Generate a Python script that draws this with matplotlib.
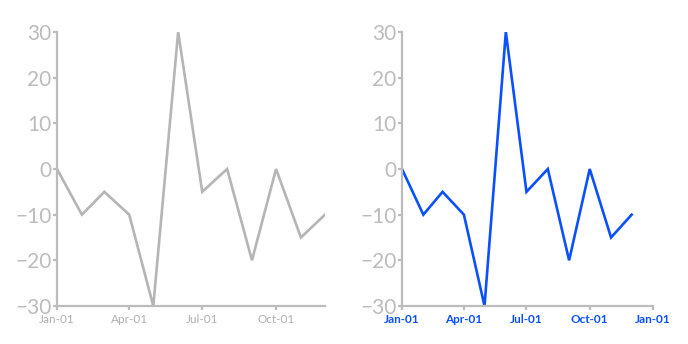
import numpy as np
import pandas as pd
import matplotlib
matplotlib.use("Agg")
import matplotlib.pyplot as plt
import matplotlib.dates as mdates

plt.rcParams['font.family'] = ['Lato', 'DejaVu Sans']

DATES = pd.date_range("2021-01-01", periods=12, freq="MS")
VALUES = [0, -10, -5, -10, -30, 30, -5, 0, -20, 0, -15, -10]
Y_TICKS = [-30, -20, -10, 0, 10, 20, 30]

GRAY = "#bcbcbc"
BLUE = "#0a50ff"

fig = plt.figure(figsize=(6.88, 3.44), dpi=100)
ax1 = fig.add_axes([57 / 688, 38 / 344, (325 - 57) / 688, (306 - 32) / 344])
ax2 = fig.add_axes([402 / 688, 38 / 344, (653 - 402) / 688, (306 - 32) / 344])


def style(ax, line_color, xlabel_color, xmax):
    ax.plot(DATES, VALUES, color=line_color, lw=1.9, solid_joinstyle="miter")
    ax.set_xlim(DATES[0], xmax)
    ax.set_ylim(-30, 30)
    ax.set_yticks(Y_TICKS)
    ax.xaxis.set_major_locator(mdates.MonthLocator(bymonth=[1, 4, 7, 10]))
    ax.xaxis.set_major_formatter(mdates.DateFormatter("%b-%d"))
    for s in ["top", "right"]:
        ax.spines[s].set_visible(False)
    for s in ["left", "bottom"]:
        ax.spines[s].set_color(GRAY)
        ax.spines[s].set_linewidth(1.6)
    ax.tick_params(axis="y", colors=GRAY, labelsize=15, length=3, width=1.6, pad=1)
    ax.tick_params(axis="x", color=GRAY, labelcolor=xlabel_color, labelsize=8.5,
                   length=3, width=1.6, pad=3)
    ax.set_facecolor("none")


style(ax1, "#b5b5b5", "#b0b0b0", DATES[-1])
style(ax2, BLUE, BLUE, pd.Timestamp("2022-01-01"))
for lbl in ax2.get_xticklabels():
    lbl.set_fontweight("bold")

fig.savefig("out.png", dpi=100)
